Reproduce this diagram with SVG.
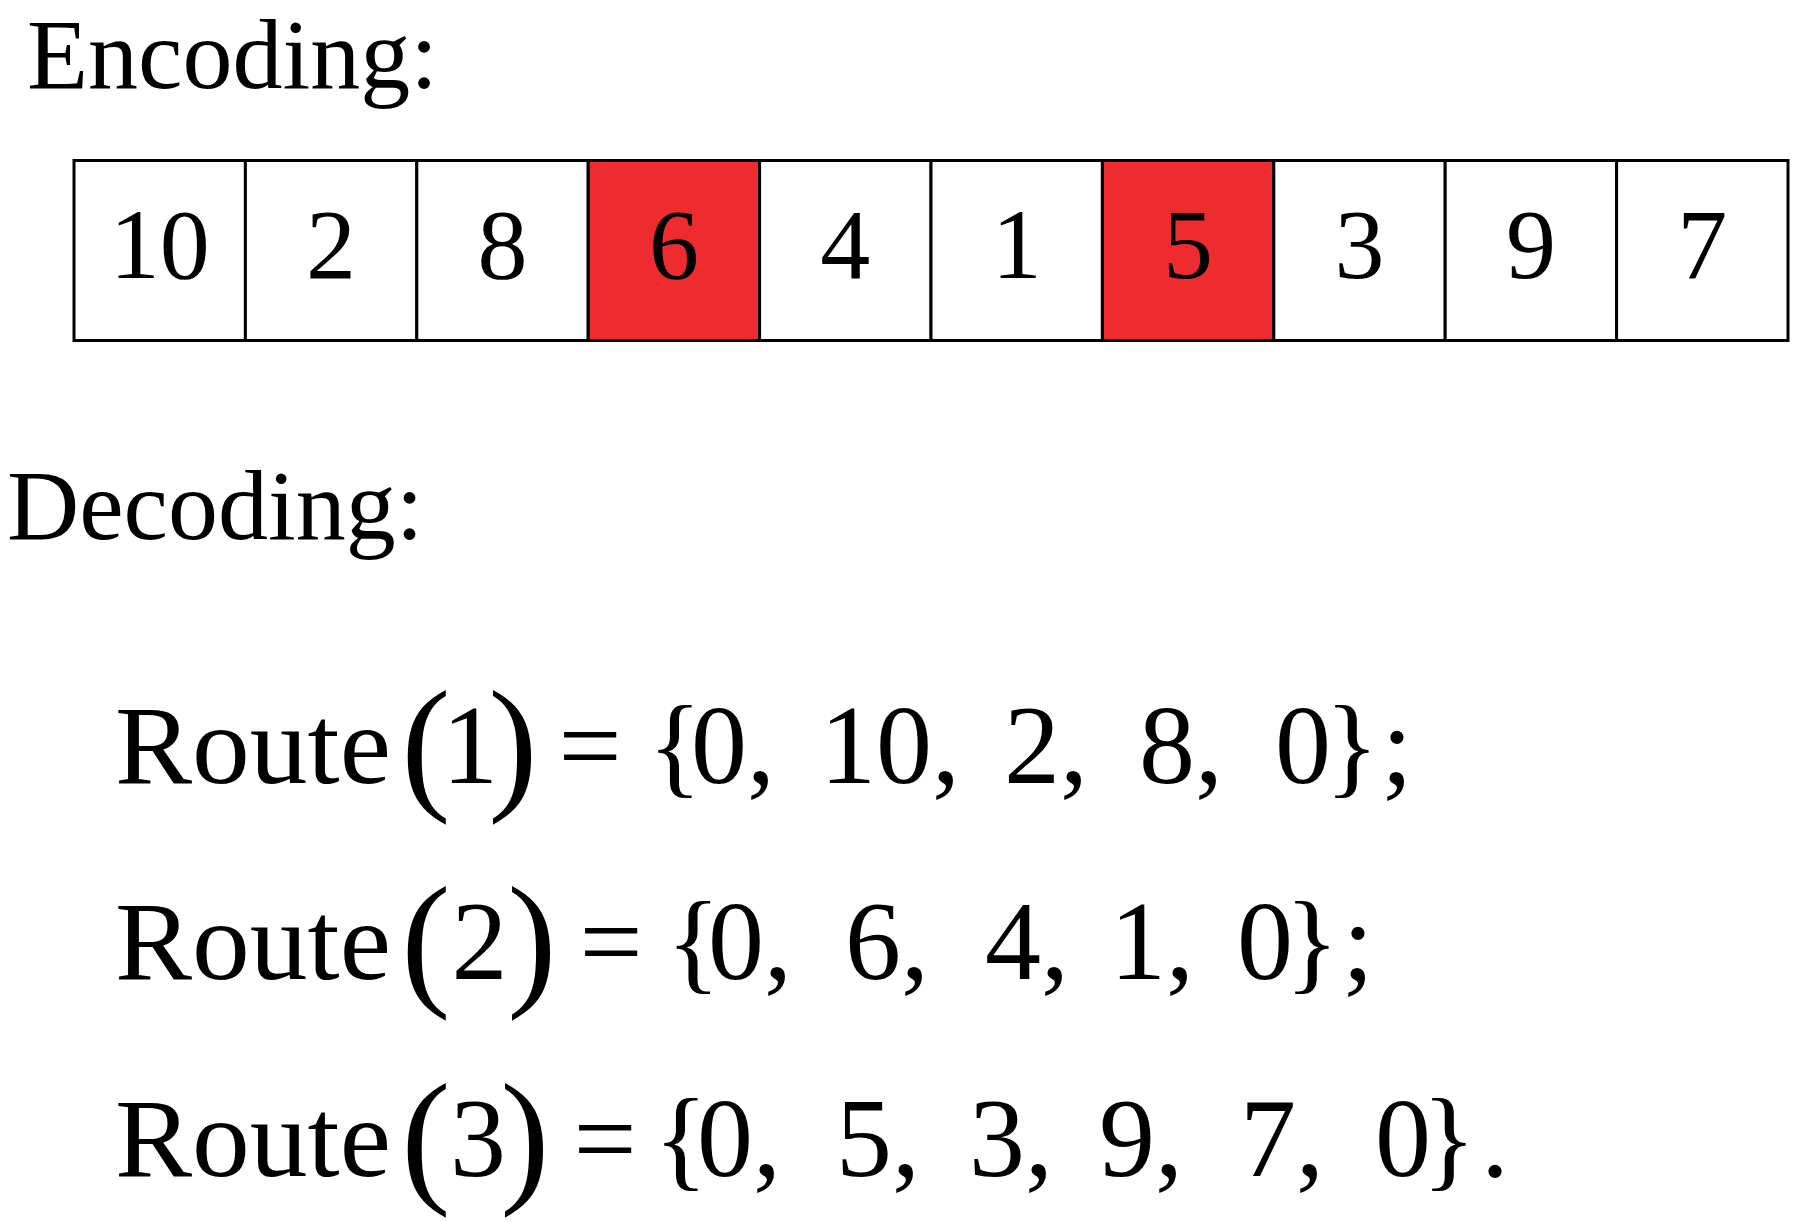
<svg xmlns="http://www.w3.org/2000/svg" width="1805" height="1222" viewBox="0 0 1805 1222">
<style>
text{font-family:"Liberation Serif","Times New Roman",serif;fill:#000}
.h{font-size:100px}
.n{font-size:100px;text-anchor:middle}
.r{font-size:112px}
.m{font-size:112px;text-anchor:middle}
.p{font-size:148px;text-anchor:middle}
.cell{fill:#fff;stroke:#000;stroke-width:3}
.red{fill:#EE2B2F}
</style>
<rect width="1805" height="1222" fill="#fff"/>
<g id="encoding-label"><text class="h" x="27" y="88">Encoding:</text></g>
<g id="encoding">
<g id="cell1"><rect class="cell" x="74" y="160.5" width="171.4" height="180"/><text class="n" x="159.7" y="278">10</text></g>
<g id="cell2"><rect class="cell" x="245.4" y="160.5" width="171.4" height="180"/><text class="n" x="331.1" y="278">2</text></g>
<g id="cell3"><rect class="cell" x="416.8" y="160.5" width="171.4" height="180"/><text class="n" x="502.5" y="278">8</text></g>
<g id="cell4"><rect class="cell red" x="588.2" y="160.5" width="171.4" height="180"/><text class="n" x="673.9" y="278">6</text></g>
<g id="cell5"><rect class="cell" x="759.6" y="160.5" width="171.4" height="180"/><text class="n" x="845.3" y="278">4</text></g>
<g id="cell6"><rect class="cell" x="931" y="160.5" width="171.4" height="180"/><text class="n" x="1016.7" y="278">1</text></g>
<g id="cell7"><rect class="cell red" x="1102.4" y="160.5" width="171.4" height="180"/><text class="n" x="1188.1" y="278">5</text></g>
<g id="cell8"><rect class="cell" x="1273.8" y="160.5" width="171.4" height="180"/><text class="n" x="1359.5" y="278">3</text></g>
<g id="cell9"><rect class="cell" x="1445.2" y="160.5" width="171.4" height="180"/><text class="n" x="1530.9" y="278">9</text></g>
<g id="cell10"><rect class="cell" x="1616.6" y="160.5" width="171.4" height="180"/><text class="n" x="1702.3" y="278">7</text></g>
</g>
<g id="decoding-label"><text class="h" x="7" y="539">Decoding:</text></g>
<g id="route1">
<text class="r" x="115" y="783" textLength="276" lengthAdjust="spacingAndGlyphs">Route</text>
<text class="p" x="426" y="793">(</text>
<text class="m" x="470" y="783">1</text>
<text class="p" x="513" y="793">)</text>
<text class="m" x="590" y="783">=</text>
<text class="m" x="675" y="783">{</text>
<text class="r" x="691" y="783">0,</text>
<text class="r" x="820" y="783">10,</text>
<text class="r" x="1004" y="783">2,</text>
<text class="r" x="1139" y="783">8,</text>
<text class="r" x="1275" y="783">0</text>
<text class="m" x="1352" y="783">}</text>
<text class="m" x="1397" y="783">;</text>
</g>
<g id="route2">
<text class="r" x="115" y="979" textLength="276" lengthAdjust="spacingAndGlyphs">Route</text>
<text class="p" x="426" y="989">(</text>
<text class="m" x="479.5" y="979">2</text>
<text class="p" x="532" y="989">)</text>
<text class="m" x="611" y="979">=</text>
<text class="m" x="693.5" y="979">{</text>
<text class="r" x="708" y="979">0,</text>
<text class="r" x="845" y="979">6,</text>
<text class="r" x="985" y="979">4,</text>
<text class="r" x="1110" y="979">1,</text>
<text class="r" x="1237" y="979">0</text>
<text class="m" x="1312" y="979">}</text>
<text class="m" x="1358" y="979">;</text>
</g>
<g id="route3">
<text class="r" x="115" y="1176" textLength="276" lengthAdjust="spacingAndGlyphs">Route</text>
<text class="p" x="426" y="1186">(</text>
<text class="m" x="478" y="1176">3</text>
<text class="p" x="525" y="1186">)</text>
<text class="m" x="605" y="1176">=</text>
<text class="m" x="681" y="1176">{</text>
<text class="r" x="697" y="1176">0,</text>
<text class="r" x="836" y="1176">5,</text>
<text class="r" x="969" y="1176">3,</text>
<text class="r" x="1099" y="1176">9,</text>
<text class="r" x="1240" y="1176">7,</text>
<text class="r" x="1375" y="1176">0</text>
<text class="m" x="1449" y="1176">}</text>
<text class="m" x="1495" y="1176">.</text>
</g>
<g id="connectors"/>
</svg>
